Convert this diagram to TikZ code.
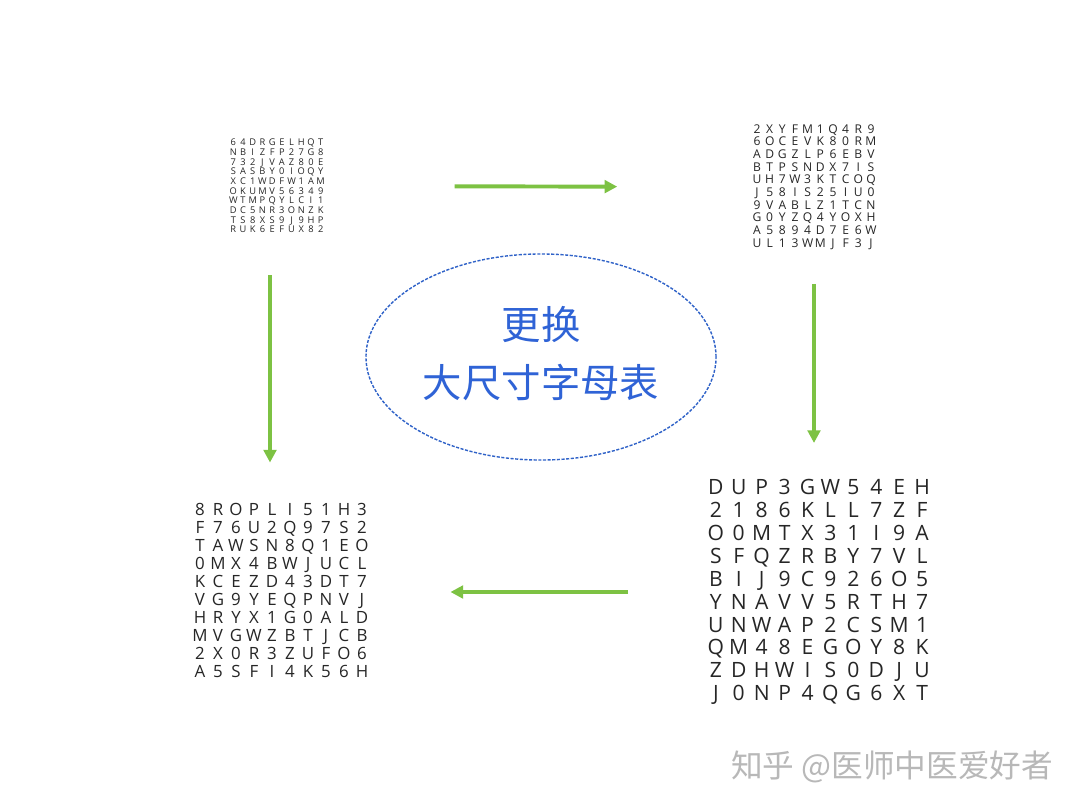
\documentclass[tikz,border=0pt]{standalone}
\usepackage{fontspec}
\setmainfont{Open Sans}
\newfontfamily\cjk{Noto Sans CJK SC}
\usepackage{xcolor}
\usepackage{tikz}
\usetikzlibrary{shapes,arrows.meta,positioning,calc}

\definecolor{arrowgreen}{HTML}{7DC243}
\definecolor{ringblue}{HTML}{2F62C8}
\definecolor{titleblue}{HTML}{2F63D6}

\newlength\cellw
\makeatletter
\newcommand\gridrow[1]{\@tfor\ch:=#1\do{\makebox[\cellw][c]{\ch}}}
\makeatother

\begin{document}
\begin{tikzpicture}[
        x=0.025cm, y=-0.025cm,
        letters/.style 2 args={font={\fontsize{#1}{#2}\selectfont\setlength\cellw{#2}}, align=center, inner sep=0pt, text=black!85},
        ring/.style={ellipse, draw=ringblue, dashed, dash pattern=on 2.2pt off 1.1pt, line width=1pt, minimum width=8.75cm, minimum height=5.15cm, text=titleblue, font=\cjk\fontsize{28pt}{41pt}\selectfont},
        arrow/.style={-{Triangle[length=9pt,width=9pt]}, draw=arrowgreen, fill=arrowgreen, line width=2.8pt}
      ]
        \useasboundingbox[fill=white] (0,0) rectangle (1080,810);

        % Tiny letter table
        \node[letters={6.6pt}{6.9pt}] (g_tiny) at (277,186) {%
          \gridrow{64DRGELHQT}\\ \gridrow{NBIZFP27G8}\\ \gridrow{732JVAZ80E}\\
          \gridrow{SASBY0IOQY}\\ \gridrow{XC1WDFW1AM}\\ \gridrow{OKUMV56349}\\
          \gridrow{WTMPQYLCI1}\\ \gridrow{DC5NR3ONZK}\\ \gridrow{TS8XS9J9HP}\\
          \gridrow{RUK6EFUX82}};

        % Small letter table
        \node[letters={8.6pt}{9pt}] (g_small) at (814,187) {%
          \gridrow{2XYFM1Q4R9}\\ \gridrow{6OCEVK80RM}\\ \gridrow{ADGZLP6EBV}\\
          \gridrow{BTPSNDX7IS}\\ \gridrow{UH7W3KTCOQ}\\ \gridrow{J58IS25IU0}\\
          \gridrow{9VABLZ1TCN}\\ \gridrow{G0YZQ4YOXH}\\ \gridrow{A5894D7E6W}\\
          \gridrow{UL13WMJF3J}};

        % Large letter table
        \node[letters={15pt}{16.3pt}] (g_large) at (819,592) {%
          \gridrow{DUP3GW54EH}\\ \gridrow{2186KLL7ZF}\\ \gridrow{O0MTX31I9A}\\
          \gridrow{SFQZRBY7VL}\\ \gridrow{BIJ9C926O5}\\ \gridrow{YNAVV5RTH7}\\
          \gridrow{UNWAP2CSM1}\\ \gridrow{QM48EGOY8K}\\ \gridrow{ZDHWIS0DJU}\\
          \gridrow{J0NP4QG6XT}};

        % Medium letter table
        \node[letters={12pt}{12.8pt}] (g_medium) at (281,590) {%
          \gridrow{8ROPLI51H3}\\ \gridrow{F76U2Q97S2}\\ \gridrow{TAWSN8Q1EO}\\
          \gridrow{0MX4BWJUCL}\\ \gridrow{KCEZD43DT7}\\ \gridrow{VG9YEQPNVJ}\\
          \gridrow{HRYX1G0ALD}\\ \gridrow{MVGWZBTJCB}\\ \gridrow{2X0R3ZUFO6}\\
          \gridrow{A5SFI4K56H}};

        % Centre label
        \node[ring] (swap) at (541,357) {\raisebox{4.3pt}{\begin{tabular}{@{}c@{}}更换\\大尺寸字母表\end{tabular}}};

        % Arrows
        \draw[arrow, shorten <=3.22cm, shorten >=3.33cm] (g_tiny) -- (g_small);
        \draw[arrow, shorten <=0.85cm, shorten >=0.9cm] (g_small.south) -- (g_small.south |- g_large.north);
        \draw[arrow, shorten <=1.9cm, shorten >=1.98cm] (g_large.west) -- (g_large.west -| g_medium.east);
        \draw[arrow, shorten <=1.05cm, shorten >=1cm] ($(g_tiny.south)+(-7,0)$) -- ($(g_tiny.south |- g_medium.north)+(-7,0)$);

        % Watermark
        \node[text=black!28, font=\cjk\fontsize{22.5pt}{26pt}\selectfont, anchor=east] (mark) at (1058,767) {知乎 @医师中医爱好者};
      \end{tikzpicture}
\end{document}
